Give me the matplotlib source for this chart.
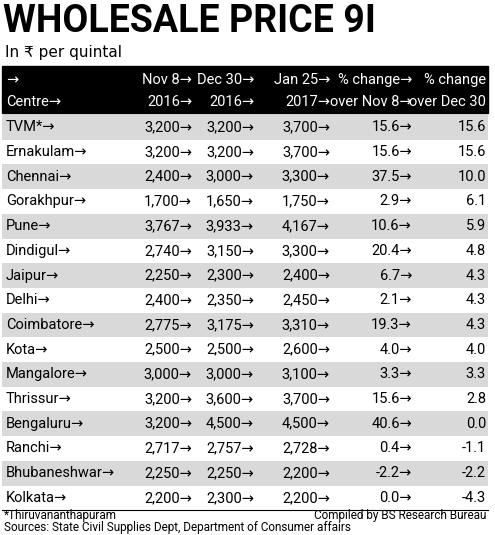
import matplotlib
matplotlib.use("Agg")
import matplotlib.pyplot as plt
from matplotlib.patches import Rectangle

plt.rcParams['font.family'] = ['Liberation Sans Narrow', 'Roboto', 'DejaVu Sans']

centres = ["TVM*", "Ernakulam", "Chennai", "Gorakhpur", "Pune", "Dindigul", "Jaipur",
           "Delhi", "Coimbatore", "Kota", "Mangalore", "Thrissur", "Bengaluru",
           "Ranchi", "Bhubaneshwar", "Kolkata"]
nov8 = [3200, 3200, 2400, 1700, 3767, 2740, 2250, 2400, 2775, 2500, 3000, 3200, 3200, 2717, 2250, 2200]
dec30 = [3200, 3200, 3000, 1650, 3933, 3150, 2300, 2350, 3175, 2500, 3000, 3600, 4500, 2757, 2250, 2300]
jan25 = [3700, 3700, 3300, 1750, 4167, 3300, 2400, 2450, 3310, 2600, 3100, 3700, 4500, 2728, 2200, 2200]
chg_nov = [15.6, 15.6, 37.5, 2.9, 10.6, 20.4, 6.7, 2.1, 19.3, 4.0, 3.3, 15.6, 40.6, 0.4, -2.2, 0.0]
chg_dec = [15.6, 15.6, 10.0, 6.1, 5.9, 4.8, 4.3, 4.3, 4.3, 4.0, 3.3, 2.8, 0.0, -1.1, -2.2, -4.3]

fig = plt.figure(figsize=(4.95, 5.35), dpi=100)
ax = fig.add_axes([0, 0, 1, 1])
ax.set_xlim(0, 495)
ax.set_ylim(535, 0)
ax.axis("off")

ax.text(3, 21, "WHOLESALE PRICE 9I", fontsize=27, fontweight="bold", va="center")
ax.text(5, 53, "In ₹ per quintal", fontsize=11, va="center", family=['DejaVu Sans'])

# header
ax.add_patch(Rectangle((2, 66), 486, 47, color="black"))
hdr_x = [192, 254, 330, 412, 486]
hdr1 = ["Nov 8→", "Dec 30→", "Jan 25→", "% change→", "% change"]
hdr2 = ["2016→", "2016→", "2017→", "over Nov 8→", "over Dec 30"]
ax.text(6, 80, "→", color="white", fontsize=10.5, va="center")
ax.text(6, 102, "Centre→", color="white", fontsize=10.5, va="center")
for x, a, b in zip(hdr_x, hdr1, hdr2):
    ax.text(x, 80, a, color="white", fontsize=10.5, va="center", ha="right")
    ax.text(x, 102, b, color="white", fontsize=10.5, va="center", ha="right")

top, rh = 115, 24.7
for i, c in enumerate(centres):
    y = top + i * rh
    if i % 2 == 0:
        ax.add_patch(Rectangle((2, y), 486, rh, color="#d9d9d9", lw=0))
    yc = y + rh / 2
    ax.text(6, yc, c + "→", fontsize=10.5, va="center")
    vals = [f"{nov8[i]:,}→", f"{dec30[i]:,}→", f"{jan25[i]:,}→",
            f"{chg_nov[i]:.1f}→", f"{chg_dec[i]:.1f}"]
    for x, v in zip(hdr_x, vals):
        ax.text(x, yc, v, fontsize=10.5, va="center", ha="right")

ax.plot([2, 488], [top + 16 * rh, top + 16 * rh], color="black", lw=0.8)
ax.text(4, 515, "*Thiruvananthapuram", fontsize=8.5, va="center")
ax.text(486, 515, "Compiled by BS Research Bureau", fontsize=8.5, va="center", ha="right")
ax.text(4, 528, "Sources: State Civil Supplies Dept, Department of Consumer affairs",
        fontsize=8.5, va="center")

fig.savefig("out.png", dpi=100, facecolor="white")
